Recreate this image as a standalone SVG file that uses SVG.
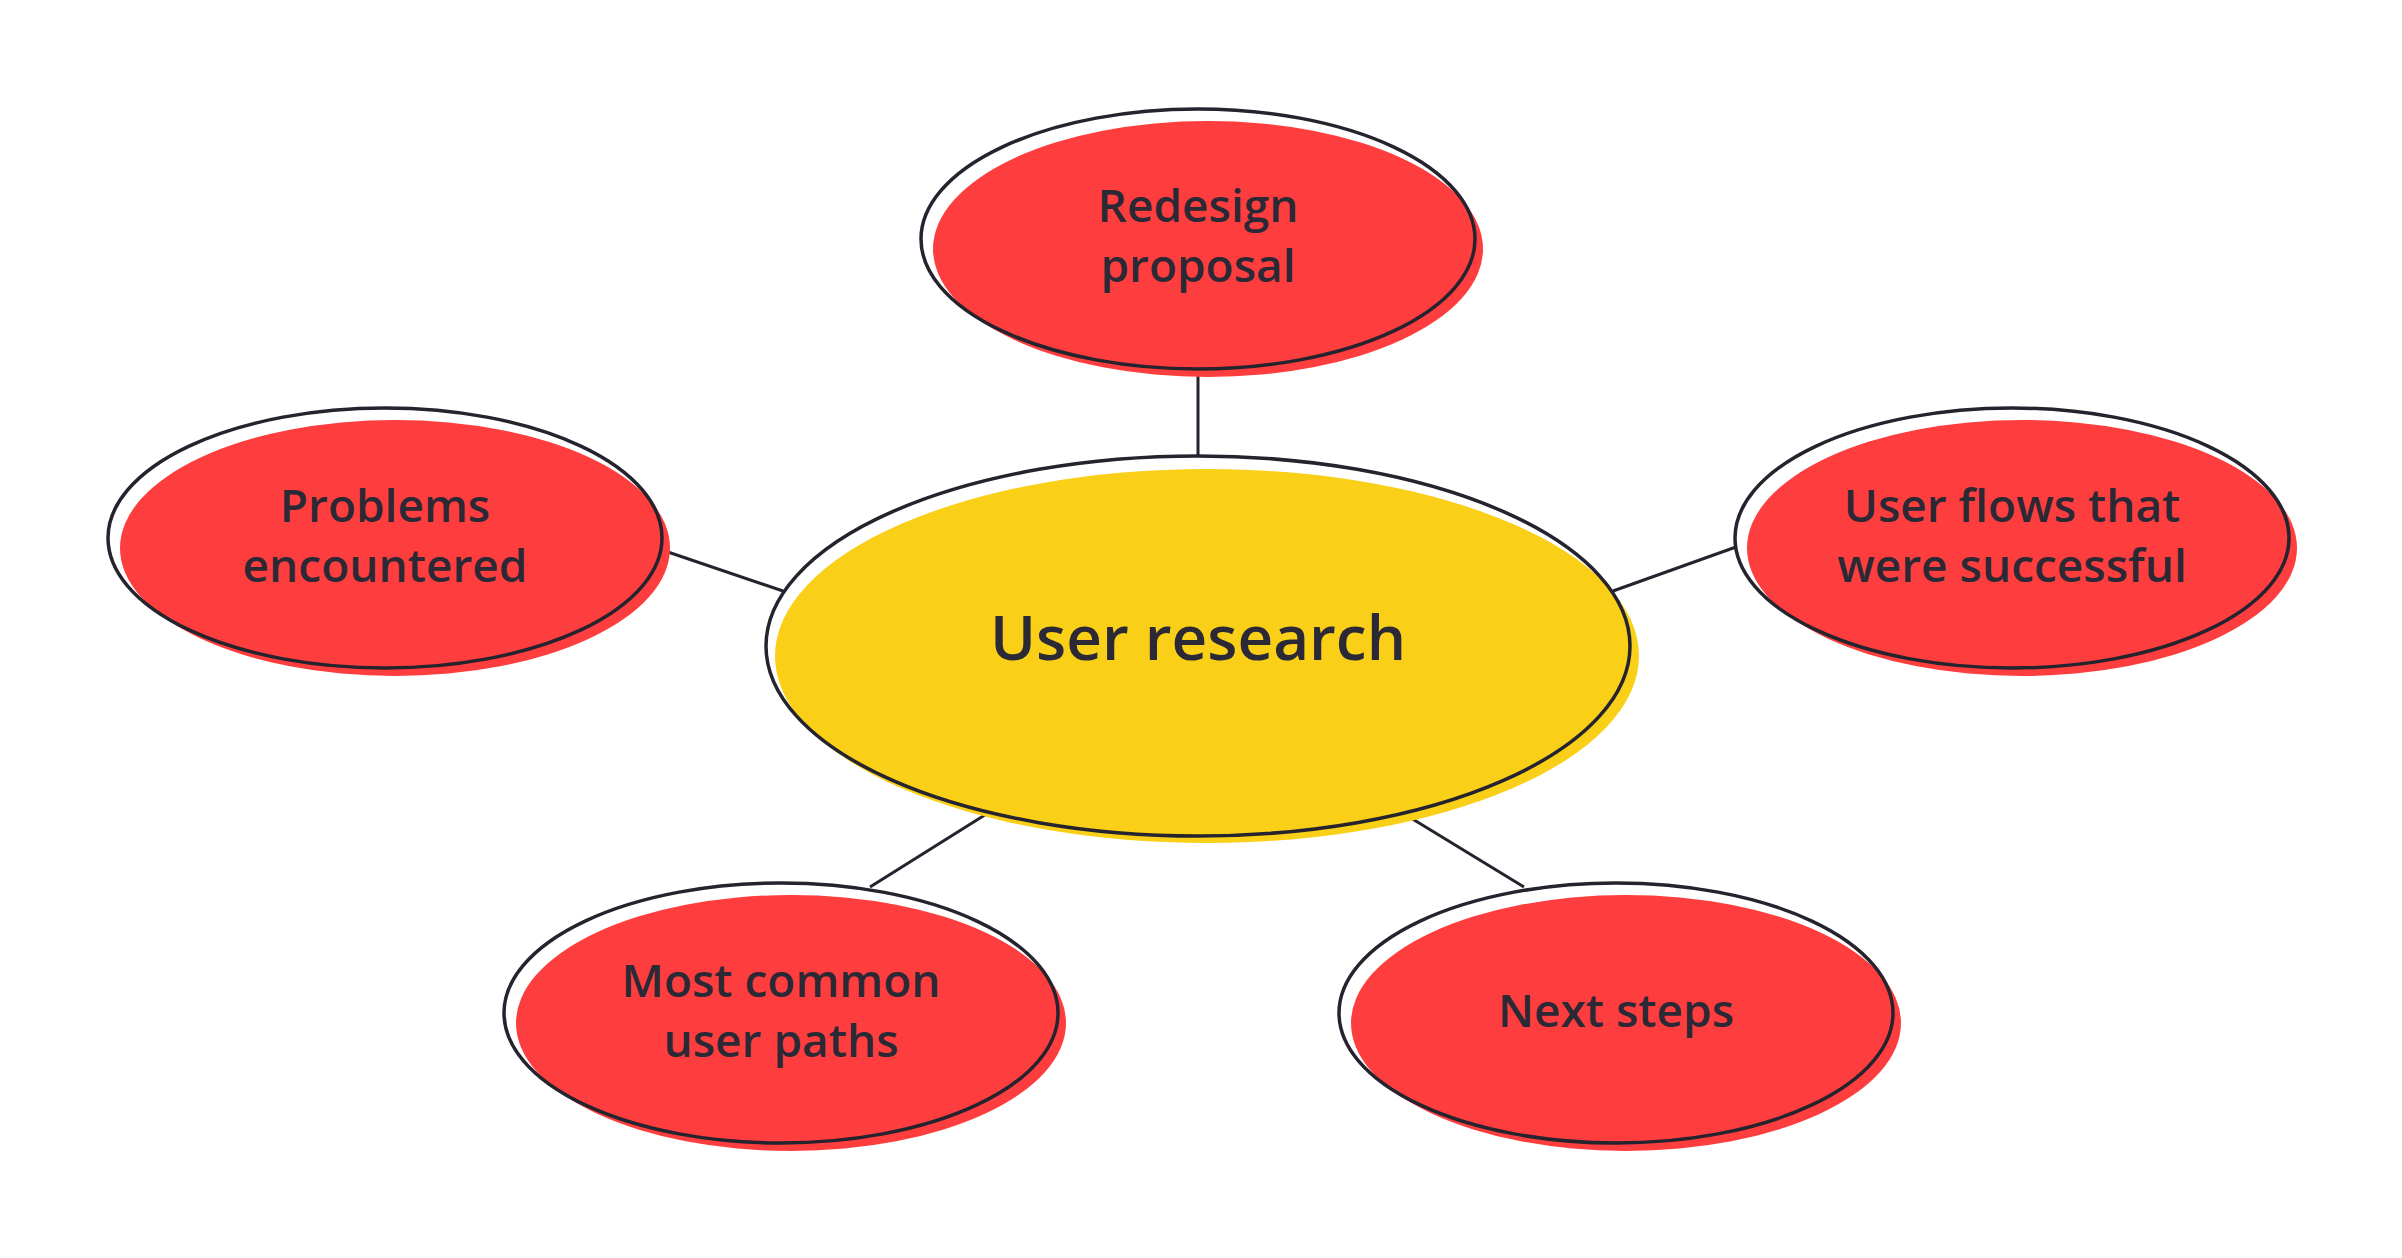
<svg xmlns="http://www.w3.org/2000/svg" width="2402" height="1258" viewBox="0 0 2402 1258">
<style>
.f{fill:#fe3e3e}
.o{fill:none;stroke:#24232e;stroke-width:3.5}
.t{font-family:"Open Sans","Liberation Sans",sans-serif;font-weight:600;font-size:46px;fill:#2a2935;text-anchor:middle}
.l{stroke:#24232e;stroke-width:3}
</style>
<rect width="2402" height="1258" fill="#fff"/>
<g id="connectors">
<line class="l" x1="1198" y1="371" x2="1198" y2="455"/>
<line class="l" x1="662" y1="550" x2="783" y2="591"/>
<line class="l" x1="1736" y1="547" x2="1613" y2="591"/>
<line class="l" x1="870" y1="887" x2="988" y2="813"/>
<line class="l" x1="1524" y1="887" x2="1406" y2="815"/>
</g>
<g id="center">
<ellipse cx="1207" cy="656" rx="432" ry="187" fill="#facf17"/>
<ellipse class="o" cx="1198" cy="646" rx="432" ry="190"/>
<text class="t" x="1198" y="660" style="font-size:62px">User research</text>
</g>
<g id="redesign">
<ellipse class="f" cx="1208" cy="249" rx="275" ry="128"/>
<ellipse class="o" cx="1198" cy="239" rx="277" ry="130"/>
<text class="t" x="1198" y="222">Redesign</text><text class="t" x="1198" y="282">proposal</text>
</g>
<g id="problems">
<ellipse class="f" cx="395" cy="548" rx="275" ry="128"/>
<ellipse class="o" cx="385" cy="538" rx="277" ry="130"/>
<text class="t" x="385" y="522">Problems</text><text class="t" x="385" y="582">encountered</text>
</g>
<g id="flows">
<ellipse class="f" cx="2022" cy="548" rx="275" ry="128"/>
<ellipse class="o" cx="2012" cy="538" rx="277" ry="130"/>
<text class="t" x="2012" y="522">User flows that</text><text class="t" x="2012" y="582">were successful</text>
</g>
<g id="paths">
<ellipse class="f" cx="791" cy="1023" rx="275" ry="128"/>
<ellipse class="o" cx="781" cy="1013" rx="277" ry="130"/>
<text class="t" x="781" y="997">Most common</text><text class="t" x="781" y="1057">user paths</text>
</g>
<g id="next">
<ellipse class="f" cx="1626" cy="1023" rx="275" ry="128"/>
<ellipse class="o" cx="1616" cy="1013" rx="277" ry="130"/>
<text class="t" x="1616" y="1027">Next steps</text>
</g>
</svg>
